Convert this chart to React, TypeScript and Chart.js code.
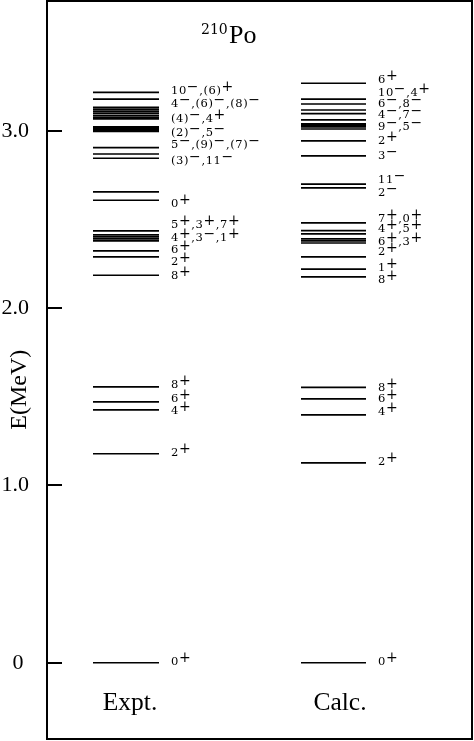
import { useEffect, useRef } from "react";
import { Chart, registerables } from "chart.js";

Chart.register(...registerables);

const SERIF = '"Liberation Serif", serif';
const LABEL_SERIF = '"DejaVu Serif", serif';

// level energies in MeV
const exptLevels = [
  3.218, 3.18, 3.133, 3.122, 3.111, 3.1, 3.088, 3.077, 3.068, 3.023, 3.014, 3.005, 2.997, 2.906, 2.87, 2.846,
  2.656, 2.609, 2.436, 2.414, 2.403, 2.391, 2.38, 2.323, 2.29, 2.186, 1.556, 1.472, 1.427, 1.179, 0,
];
const calcLevels = [
  3.269, 3.18, 3.152, 3.118, 3.098, 3.062, 3.04, 3.032, 3.023, 3.011, 2.944, 2.859, 2.7, 2.679, 2.481, 2.438,
  2.419, 2.391, 2.38, 2.368, 2.29, 2.22, 2.177, 1.554, 1.489, 1.398, 1.128, 0,
];

// spin labels and the energy their baseline sits at
const exptLabels = [
  "10−,(6)+", "4−,(6)−,(8)−", "(4)−,4+", "(2)−,5−", "5−,(9)−,(7)−", "(3)−,11−", "0+", "5+,3+,7+", "4+,3−,1+",
  "6+", "2+", "8+", "8+", "6+", "4+", "2+", "0+",
];
const exptLabelY = [
  3.209, 3.135, 3.051, 2.972, 2.904, 2.814, 2.572, 2.453, 2.38, 2.312, 2.244, 2.165, 1.551, 1.472, 1.404, 1.167,
  -0.011,
];
const calcLabels = [
  "6+", "10−,4+", "6−,8−", "4−,7−", "9−,5−", "2+", "3−", "11−", "2−", "7+,0+", "4+,5+", "6+,3+", "2+", "1+", "8+",
  "8+", "6+", "4+", "2+", "0+",
];
const calcLabelY = [
  3.271, 3.197, 3.135, 3.073, 3.006, 2.927, 2.842, 2.707, 2.633, 2.487, 2.431, 2.357, 2.301, 2.211, 2.143, 1.534,
  1.472, 1.398, 1.117, -0.011,
];

const levelLine = (levels: number[], x0: number, x1: number) =>
  levels.flatMap((e) => [
    { x: x0, y: e },
    { x: x1, y: e },
    { x: x1, y: NaN },
  ]);

// digits at normal size, the parity sign bigger and raised
function drawSpin(ctx: CanvasRenderingContext2D, text: string, px: number, py: number) {
  let x = px;
  for (const ch of text) {
    const sign = ch === "+" || ch === "−";
    ctx.font = sign ? `14px ${LABEL_SERIF}` : `11.5px ${LABEL_SERIF}`;
    ctx.fillText(ch, x, sign ? py - 3 : py);
    x += ctx.measureText(ch).width + 0.6;
  }
}

const annotations = {
  id: "annotations",
  afterDraw(chart: any) {
    const { ctx, chartArea, scales } = chart;
    const { x, y } = scales;
    ctx.save();
    ctx.strokeStyle = "#000";
    ctx.lineWidth = 2;
    ctx.strokeRect(chartArea.left, chartArea.top, chartArea.right - chartArea.left, chartArea.bottom - chartArea.top);

    ctx.fillStyle = "#000";
    ctx.textAlign = "left";
    ctx.textBaseline = "alphabetic";
    exptLabels.forEach((t, i) => drawSpin(ctx, t, x.getPixelForValue(124), y.getPixelForValue(exptLabelY[i])));
    calcLabels.forEach((t, i) => drawSpin(ctx, t, x.getPixelForValue(331), y.getPixelForValue(calcLabelY[i])));

    ctx.font = `14px ${LABEL_SERIF}`;
    ctx.fillText("210", x.getPixelForValue(154), y.getPixelForValue(3.547));
    ctx.font = `26px ${SERIF}`;
    ctx.fillText("Po", x.getPixelForValue(182), y.getPixelForValue(3.495));

    ctx.font = `25.5px ${SERIF}`;
    ctx.textAlign = "center";
    ctx.fillText("Expt.", x.getPixelForValue(83), y.getPixelForValue(-0.265));
    ctx.fillText("Calc.", x.getPixelForValue(293), y.getPixelForValue(-0.265));

    ctx.translate(26, y.getPixelForValue(1.54));
    ctx.rotate(-Math.PI / 2);
    ctx.font = `24px ${SERIF}`;
    ctx.fillText("E(MeV)", 0, 0);
    ctx.restore();
  },
};

export default function App() {
  const canvasRef = useRef<HTMLCanvasElement>(null);

  useEffect(() => {
    if (!canvasRef.current) return;
    document.body.style.margin = "0";
    document.body.style.background = "#fff";

    const chart = new Chart(canvasRef.current, {
      type: "scatter",
      data: {
        datasets: [
          { label: "Expt.", data: levelLine(exptLevels, 46, 112) },
          { label: "Calc.", data: levelLine(calcLevels, 254, 319) },
        ].map((d) => ({
          ...d,
          showLine: true,
          spanGaps: false,
          borderColor: "#000",
          borderWidth: 1.7,
          pointRadius: 0,
        })),
      },
      options: {
        responsive: false,
        animation: false,
        layout: { padding: { top: 1, right: 2, bottom: 2, left: 0 } },
        plugins: { legend: { display: false }, tooltip: { enabled: false } },
        scales: {
          x: { type: "linear", display: false, min: 0, max: 425 },
          y: {
            type: "linear",
            min: -0.43,
            max: 3.733,
            afterFit: (scale: any) => {
              scale.width = 47;
              scale.paddingTop = 0;
              scale.paddingBottom = 0;
            },
            border: { color: "#000", width: 2 },
            grid: { drawOnChartArea: false, color: "#000", lineWidth: 2, tickLength: -15 },
            ticks: {
              stepSize: 1,
              includeBounds: false,
              padding: 33,
              color: "#000",
              font: { family: SERIF, size: 22 },
              callback: (v: any) => (v === 0 ? "0 " : Number(v).toFixed(1)),
            },
          },
        },
      },
      plugins: [annotations],
    });

    return () => chart.destroy();
  }, []);

  return <canvas ref={canvasRef} width={474} height={741} style={{ display: "block" }} />;
}
